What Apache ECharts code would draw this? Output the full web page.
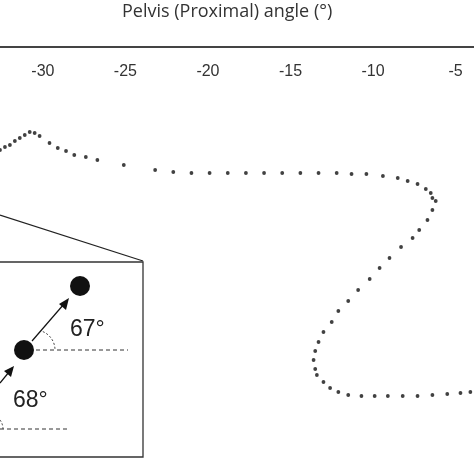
<!DOCTYPE html><html><head><meta charset="utf-8">
<script src="https://cdn.jsdelivr.net/npm/echarts@6/dist/echarts.min.js"></script>
<style>html,body{margin:0;background:#fff}#c{width:474px;height:474px}</style></head><body><div id="c"></div>
<script>
const pelvisAngle=[-32.6,-32.3,-32.0,-31.7,-31.4,-31.1,-30.8,-30.5,-30.2,-29.6,-29.1,-28.6,-28.1,-27.4,-26.7,-25.1,-23.2,-22.1,-21.0,-19.9,-18.8,-17.7,-16.6,-15.5,-14.4,-13.3,-12.2,-11.3,-10.4,-9.4,-8.5,-7.9,-7.3,-6.8,-6.5,-6.4,-6.2,-6.4,-6.7,-7.2,-7.6,-8.3,-9.0,-9.6,-10.2,-10.9,-11.5,-12.1,-12.5,-13.0,-13.3,-13.5,-13.6,-13.5,-13.4,-13.0,-12.6,-12.1,-11.5,-10.7,-9.9,-9.1,-8.2,-7.3,-6.4,-5.5,-4.7,-4.1];
const distalAngle=[10.3,10.0,9.8,9.4,9.1,8.8,8.5,8.6,8.9,9.6,10.1,10.4,10.8,11.0,11.3,11.8,12.3,12.5,12.6,12.6,12.6,12.6,12.6,12.6,12.6,12.6,12.6,12.7,12.7,12.9,13.1,13.4,13.7,14.2,14.6,15.1,15.4,16.3,17.3,18.3,19.1,20.0,21.1,22.1,23.2,24.3,25.4,26.4,27.5,28.5,29.5,30.4,31.3,32.2,32.8,33.5,34.1,34.5,34.8,34.9,34.9,34.9,34.9,34.9,34.8,34.7,34.6,34.5];
const xTicks=[-30,-25,-20,-15,-10,-5];
const data=pelvisAngle.map((v,i)=>[v,distalAngle[i]]);
const ch=echarts.init(document.getElementById('c'));
ch.setOption({animation:false,
grid:{left:0,right:0,top:47,bottom:0},
xAxis:{type:'value',position:'top',min:-32.6,max:-3.88,
 axisLine:{lineStyle:{color:'#444',width:2}},axisTick:{show:false},splitLine:{show:false},
 axisLabel:{customValues:xTicks,inside:true,margin:17,fontFamily:'Liberation Sans',fontSize:16,color:'#333'}},
yAxis:{type:'value',min:0,max:42.7,inverse:true,show:false},
series:[{type:'scatter',data:data,symbolSize:3.8,itemStyle:{color:'#111'},clip:false}],
graphic:[
 {type:'text',left:122,top:3,style:{text:'Pelvis (Proximal) angle (°)',font:'18px "Open Sans"',fill:'#333'}},
 {type:'polyline',shape:{points:[[0,215],[143,261]]},style:{stroke:'#222',lineWidth:1.3}},
 {type:'rect',shape:{x:-2,y:262,width:145,height:195},style:{fill:'none',stroke:'#333',lineWidth:1.3}},
 {type:'circle',shape:{cx:80,cy:286,r:10},style:{fill:'#111'}},
 {type:'circle',shape:{cx:24,cy:350,r:10},style:{fill:'#111'}},
 {type:'line',shape:{x1:32,y1:341,x2:64,y2:304},style:{stroke:'#111',lineWidth:1.2}},
 {type:'polygon',shape:{points:[[69,298],[59,304],[66,310]]},style:{fill:'#111'}},
 {type:'line',shape:{x1:0,y1:383,x2:9,y2:372},style:{stroke:'#111',lineWidth:1.2}},
 {type:'polygon',shape:{points:[[14,366],[4,371],[11,377]]},style:{fill:'#111'}},
 {type:'line',shape:{x1:36,y1:350,x2:128,y2:350},style:{stroke:'#333',lineWidth:1,lineDash:[4,3]}},
 {type:'line',shape:{x1:0,y1:429,x2:70,y2:429},style:{stroke:'#333',lineWidth:1,lineDash:[4,3]}},
 {type:'arc',shape:{cx:35,cy:350,r:20,startAngle:-67*Math.PI/180,endAngle:0},style:{stroke:'#333',fill:'none',lineWidth:1,lineDash:[2,2]}},
 {type:'arc',shape:{cx:-12,cy:429,r:15,startAngle:-68*Math.PI/180,endAngle:0},style:{stroke:'#333',fill:'none',lineWidth:1,lineDash:[2,2]}},
 {type:'text',left:70,top:318,style:{text:'67°',font:'23px "Liberation Sans"',fill:'#222'}},
 {type:'text',left:13,top:389,style:{text:'68°',font:'23px "Liberation Sans"',fill:'#222'}}
]});
</script></body></html>
